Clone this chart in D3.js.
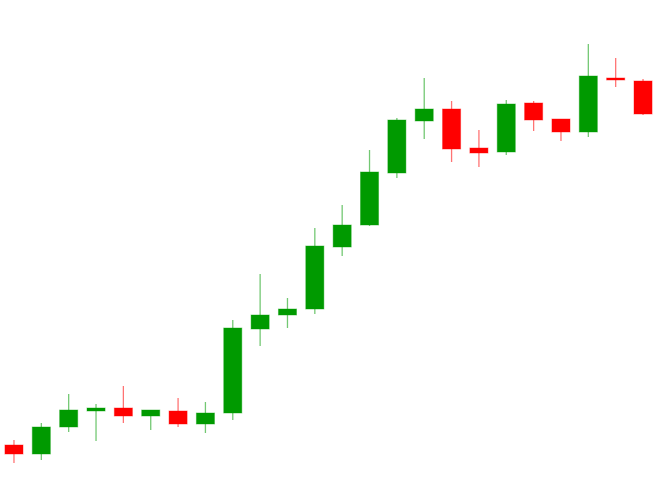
<!DOCTYPE html>
<html>
<head>
<meta charset="utf-8">
<script src="https://cdn.jsdelivr.net/npm/d3@7"></script>
<style>
  html, body { margin: 0; padding: 0; background: #ffffff; }
  svg { display: block; }
</style>
</head>
<body>
<svg id="chart" width="660" height="490"></svg>
<script>
const days  = d3.range(1, 25).map(d => "D" + d);
const open  = [8.75, 6.5, 13.25, 17.25, 18, 16, 17.25, 14, 16.75, 37.75, 41.25, 42.75, 58.25, 63.75, 76.75, 89.75, 92.75, 83, 82, 94.25, 90.25, 87, 100.5, 99.75];
const high  = [10, 14.25, 21.5, 19, 23.5, 17.5, 20.5, 19.5, 40, 51.5, 45.5, 63, 68.75, 82.5, 90.5, 100.5, 94.75, 87.5, 95, 94.75, 90.25, 109, 105.5, 100.25];
const low   = [4.25, 5, 12, 9.75, 14.25, 12.5, 13.25, 11.75, 15, 33.5, 38, 41.5, 56, 63.5, 75.5, 85.25, 79.5, 78.25, 81.25, 87.25, 84.75, 85.75, 98.25, 91.25];
const close = [6.5, 13.25, 17.5, 18, 16, 17.5, 14, 16.75, 38, 41.25, 42.75, 58.5, 63.75, 77, 90, 92.75, 82.75, 81.75, 94, 90, 87, 101, 100, 91.5];

const upColor = "#009a00", downColor = "#ff0000";

const data = days.map((d, i) => ({ d, o: open[i], h: high[i], l: low[i], c: close[i] }));

const svg = d3.select("#chart");
const x = d3.scaleBand().domain(days).range([0.3, 656.7]).paddingInner(0.34).paddingOuter(0.17);
const y = d3.scaleLinear().domain([0, 120]).range([480, 0]);

const g = svg.append("g");
const candle = g.selectAll("g.candle").data(data).join("g").attr("class", "candle");

candle.append("line")
  .attr("x1", d => x(d.d) + x.bandwidth() / 2)
  .attr("x2", d => x(d.d) + x.bandwidth() / 2)
  .attr("y1", d => y(d.h))
  .attr("y2", d => y(d.l))
  .attr("stroke", d => d.c >= d.o ? upColor : downColor)
  .attr("stroke-opacity", 0.55)
  .attr("stroke-width", 1.3);

candle.append("rect")
  .attr("x", d => x(d.d))
  .attr("width", x.bandwidth())
  .attr("y", d => y(Math.max(d.o, d.c)))
  .attr("height", d => Math.max(1.5, Math.abs(y(d.o) - y(d.c))))
  .attr("fill", d => d.c >= d.o ? upColor : downColor)
  .attr("stroke", d => d.c >= d.o ? upColor : downColor)
  .attr("stroke-opacity", 0.4)
  .attr("stroke-width", 1);
</script>
</body>
</html>
